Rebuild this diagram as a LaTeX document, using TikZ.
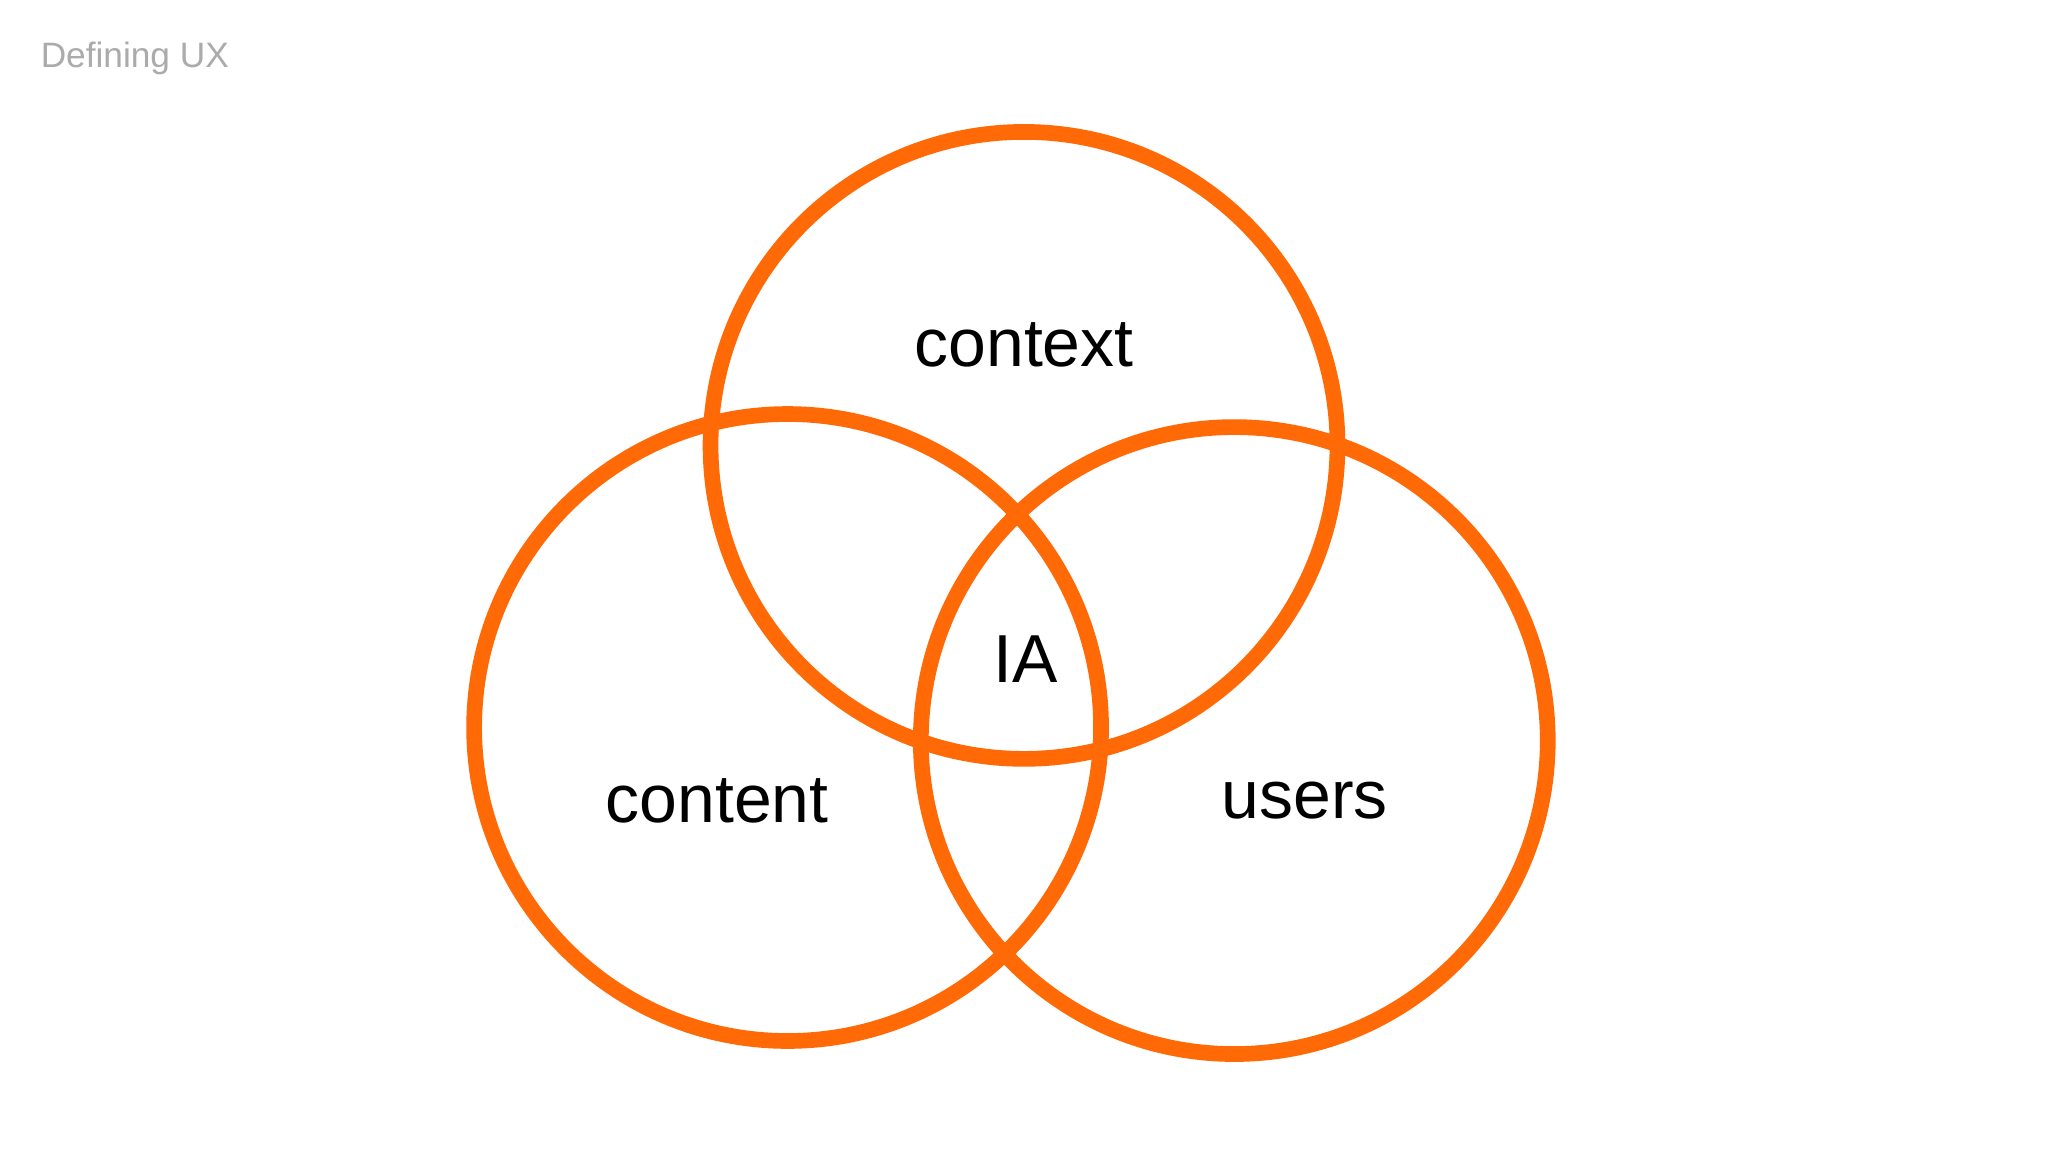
\documentclass[tikz,border=0pt]{standalone}
\usepackage{fontspec}
\setmainfont{Liberation Sans}
\definecolor{ora}{HTML}{FF6A06}
\definecolor{ttl}{HTML}{ABABAB}
\begin{document}
\begin{tikzpicture}[x=1pt,y=-1pt,
  ring/.style={draw=ora,line width=12pt},
  lbl/.style={font=\fontsize{52}{60}\selectfont,text=black,inner sep=0pt}]
\fill[white] (0,0) rectangle (1568,882);
\useasboundingbox (0,0) rectangle (1568,882);
\node[ring,circle,minimum size=480pt,inner sep=0pt] (ctx) at (784,341) {};
\node[ring,circle,minimum size=480pt,inner sep=0pt] (cnt) at (603,557) {};
\node[ring,circle,minimum size=480pt,inner sep=0pt] (usr) at (945,567) {};
\node[lbl] (tctx) at (784,264) {context};
\node[lbl] (tia) at (785,505) {IA};
\node[lbl] (tcnt) at (549,613) {content};
\node[lbl] (tusr) at (999,613) {users};
\node[anchor=west,inner sep=0pt,text=ttl,font=\fontsize{27}{30}\selectfont] (title) at (31,45) {Defining UX};
\end{tikzpicture}
\end{document}
